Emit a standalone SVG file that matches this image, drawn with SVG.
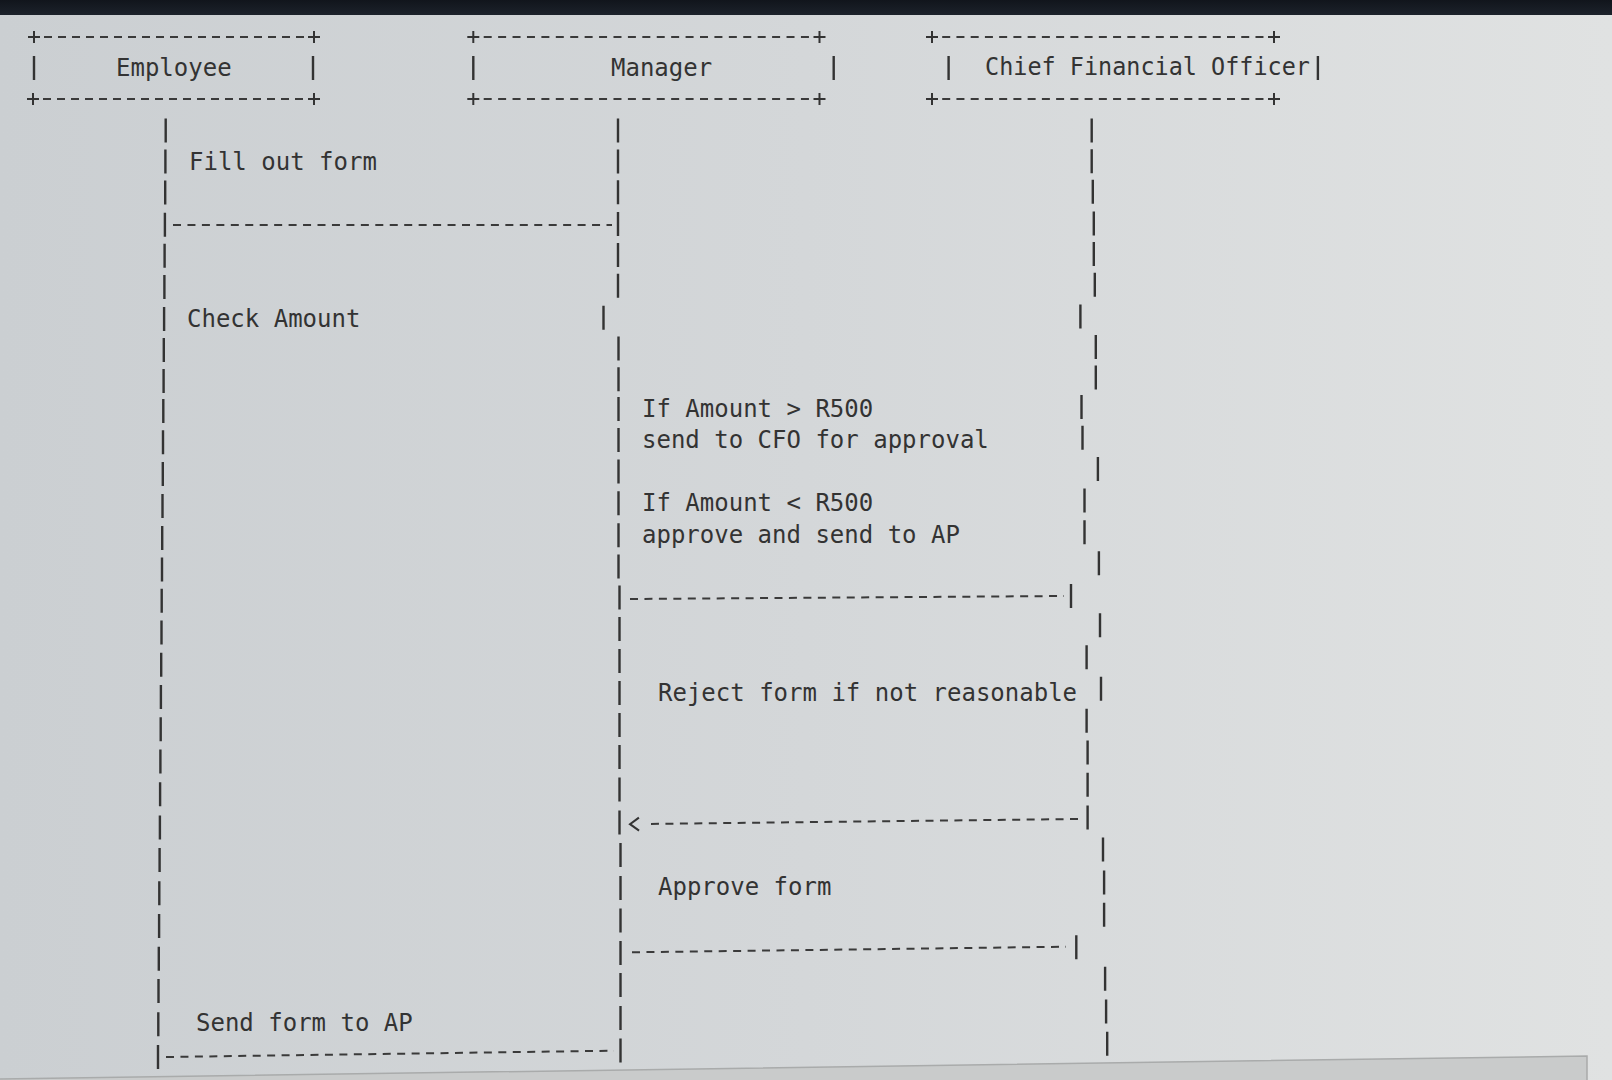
<svg xmlns="http://www.w3.org/2000/svg" width="1612" height="1080" viewBox="0 0 1612 1080">
<defs>
<linearGradient id="bg" x1="0" y1="0" x2="1" y2="0">
<stop offset="0" stop-color="#cbcfd2"/>
<stop offset="0.5" stop-color="#d4d7d9"/>
<stop offset="1" stop-color="#e0e2e2"/>
</linearGradient>
<linearGradient id="topbar" x1="0" y1="0" x2="0" y2="1">
<stop offset="0" stop-color="#11151c"/>
<stop offset="1" stop-color="#1c222b"/>
</linearGradient>
<marker id="lt" viewBox="0 -10 20 20" markerWidth="20" markerHeight="20" refX="0" refY="0" orient="auto" markerUnits="userSpaceOnUse">
<path d="M7,-6.5 L16,0 L7,6.5" fill="none" stroke="#333" stroke-width="2"/>
</marker>
</defs>
<style>
.t{font-family:"DejaVu Sans Mono","Liberation Mono",monospace;font-size:24px;fill:#333}
.pipe{stroke:#333;stroke-width:2.4;fill:none}
.plus{stroke:#333;stroke-width:2;fill:none}
.dash{stroke:#3a3a3a;stroke-width:2;fill:none;stroke-dasharray:8 6.45}
</style>
<rect x="0" y="0" width="1612" height="1080" fill="url(#bg)"/>
<rect x="0" y="0" width="1612" height="15" fill="url(#topbar)"/>
<polygon points="0,1079 1587,1056 1587,1080 0,1080" fill="#c9cbcb"/>
<polyline points="0,1079 1587,1056 1587,1080" fill="none" stroke="#a9abab" stroke-width="1.5"/>

<g id="employee">
<path class="plus" d="M28,37h12M34,31v12M308,37h12M314,31v12M27,99h12M33,93v12M308,99h12M314,93v12"/>
<line class="dash" x1="44" y1="37" x2="305" y2="37" style="stroke-dasharray:8 6"/>
<line class="dash" x1="43" y1="99" x2="305" y2="99" style="stroke-dasharray:8 6"/>
<path class="pipe" d="M34,56v24M313,56v24"/>
<text class="t" x="116" y="76">Employee</text>
</g>

<g id="manager">
<path class="plus" d="M467.3,37h12M473.3,31v12M813.5,37h12M819.5,31v12M467.3,99h12M473.3,93v12M813.5,99h12M819.5,93v12"/>
<line class="dash" x1="483.7" y1="37" x2="809" y2="37" style="stroke-dasharray:8 6.42"/>
<line class="dash" x1="483.7" y1="99" x2="809" y2="99" style="stroke-dasharray:8 6.42"/>
<path class="pipe" d="M473.3,56v24M833.7,56v24"/>
<text class="t" x="611" y="76">Manager</text>
</g>

<g id="cfo">
<path class="plus" d="M926,37h12M932,31v12M1268,37h12M1274,31v12M926,99h12M932,93v12M1268,99h12M1274,93v12"/>
<line class="dash" x1="942.2" y1="37" x2="1264" y2="37" style="stroke-dasharray:8 6.24"/>
<line class="dash" x1="942.2" y1="99" x2="1264" y2="99" style="stroke-dasharray:8 6.24"/>
<path class="pipe" d="M948.6,56v24M1317.9,56v24"/>
<text class="t" x="985" y="75" textLength="325" lengthAdjust="spacingAndGlyphs">Chief Financial Officer</text>
</g>

<g id="fill-out-form"><text class="t" x="189" y="170">Fill out form</text></g>
<g id="check-amount"><text class="t" x="187" y="327">Check Amount</text></g>
<g id="amount-over-r500">
<text class="t" x="642" y="417">If Amount &gt; R500</text>
<text class="t" x="642" y="448">send to CFO for approval</text>
</g>
<g id="amount-under-r500">
<text class="t" x="642" y="511">If Amount &lt; R500</text>
<text class="t" x="642" y="543">approve and send to AP</text>
</g>
<g id="reject-form"><text class="t" x="658" y="701">Reject form if not reasonable</text></g>
<g id="approve-form"><text class="t" x="658" y="895">Approve form</text></g>
<g id="send-form-to-ap"><text class="t" x="196" y="1031">Send form to AP</text></g>

<g id="connectors">
<path id="lifeline-employee" class="pipe" d="M165.7,118.6v24M165.4,149.6v24M165.2,180.6v24M164.9,212.8v24M164.6,243.8v24M164.4,274.9v24M164.1,307v24M163.8,338v24M163.6,369.1v24M163.3,399v24M163,430.2v24M162.8,461.9v24M162.5,493.9v24M162.2,526.1v24M162,557.5v24M161.7,588.8v24M161.5,620.5v24M161.2,652.8v24M160.9,685v24M160.7,717.2v24M160.4,749.4v24M160.1,782.2v24M159.9,815.4v24M159.6,848.1v24M159.3,881.3v24M159.1,914.1v24M158.8,946.8v24M158.5,979v24M158.3,1012.2v24M158,1045v24"/>
<path id="lifeline-manager" class="pipe" d="M618,118.6v24M618,149.4v24M618,180.2v24M618,212.1v24M618,242.9v24M618,273.8v24M603.5,305.7v24M618.5,336.5v24M618.5,367.3v24M618.5,397v24M618.5,428v24M618.5,459.5v24M618.5,491.2v24M618.5,523.2v24M618.5,554.4v24M619.5,585.5v24M619.5,617v24M619.5,649v24M619.5,681v24M619.5,713v24M619.5,745v24M619.5,777.5v24M619.5,810.5v24M620.5,843v24M620.5,876v24M620.5,908.5v24M620.5,941v24M620.5,973v24M620.5,1006v24M620.5,1038.5v24"/>
<path id="lifeline-cfo" class="pipe" d="M1091.7,118.6v24M1091.7,149.2v24M1092.8,179.7v24M1093.8,211.4v24M1093.8,242v24M1094.8,272.7v24M1080.4,304.4v24M1095.8,334.9v24M1095.8,365.5v24M1081.5,395v24M1082.5,425.8v24M1097.9,457v24M1084.5,488.5v24M1084.5,520.3v24M1098.9,551.2v24M1071,584v24M1100,613.3v24M1086.6,645.2v24M1101,676.8v24M1086.6,708.7v24M1087.6,740.5v24M1087.6,772.8v24M1087.6,805.5v24M1103,837.6v24M1104.1,870.4v24M1104.1,902.7v24M1076.3,935.3v24M1105.1,966.7v24M1106.1,999.4v24M1107.2,1031.7v24"/>
<line id="msg-employee-manager" class="dash" x1="173" y1="225" x2="612" y2="225"/>
<line id="msg-manager-cfo" class="dash" x1="630" y1="599" x2="1064" y2="596"/>
<line id="msg-cfo-manager" class="dash" x1="1078" y1="819" x2="646" y2="824" marker-end="url(#lt)"/>
<line id="msg-manager-cfo-approve" class="dash" x1="632" y1="952.3" x2="1066" y2="946.7"/>
<line id="msg-employee-final" class="dash" x1="166" y1="1057" x2="614" y2="1050.7"/>
</g>
</svg>
